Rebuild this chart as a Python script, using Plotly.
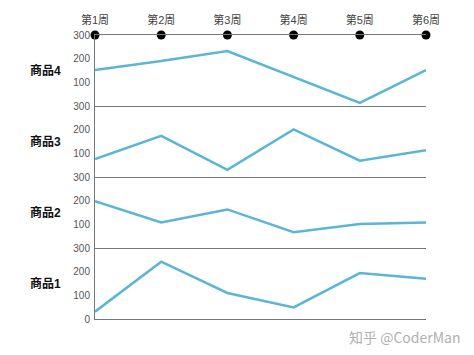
import plotly.graph_objects as go
from plotly.subplots import make_subplots

weeks = [1, 2, 3, 4, 5, 6]
week_labels = ["第1周", "第2周", "第3周", "第4周", "第5周", "第6周"]
products = ["商品4", "商品3", "商品2", "商品1"]
values = {
    "商品4": [152, 190, 232, 122, 13, 152],
    "商品3": [76, 174, 30, 201, 69, 113],
    "商品2": [198, 108, 163, 67, 101, 108],
    "商品1": [31, 242, 110, 49, 194, 170],
}
top_marker_value = [300, 300, 300, 300, 300, 300]

LINE = "#5bb5d5"
AX = "#777777"
FONT = "Liberation Sans, Arial, Noto Sans CJK SC, sans-serif"

fig = make_subplots(rows=4, cols=1, shared_xaxes=True, vertical_spacing=0)

for i, p in enumerate(products):
    fig.add_trace(go.Scatter(x=weeks, y=values[p], mode="lines",
                             line=dict(color=LINE, width=2.5),
                             showlegend=False, hoverinfo="skip"),
                  row=i + 1, col=1)

fig.add_trace(go.Scatter(x=weeks, y=top_marker_value, mode="markers",
                         marker=dict(color="black", size=9),
                         cliponaxis=False, showlegend=False),
              row=1, col=1)

for i in range(4):
    r = i + 1
    tv = [100, 200, 300] if r < 4 else [0, 100, 200, 300]
    fig.update_yaxes(range=[0, 300], tickvals=tv, ticktext=[str(v) for v in tv],
                     showgrid=False, zeroline=False, showline=True,
                     linecolor=AX, linewidth=1, ticks="", automargin=False,
                     ticklabelstandoff=2,
                     tickfont=dict(size=10, color="#555555", family=FONT),
                     row=r, col=1)
    fig.update_xaxes(range=[1, 6], showgrid=False, zeroline=False,
                     showline=True, linecolor=AX, linewidth=1.2, automargin=False,
                     ticks="", showticklabels=False, row=r, col=1)

fig.update_xaxes(side="top", showticklabels=True, tickvals=weeks,
                 ticktext=week_labels, mirror=True, ticklabelstandoff=6,
                 tickfont=dict(size=11, color="#444444", family=FONT),
                 row=1, col=1)

# Row labels
n = 4
for i, p in enumerate(products):
    yc = 1 - (i + 0.5) / n
    fig.add_annotation(text="<b>" + p + "</b>", xref="paper", yref="paper",
                       x=-0.151, y=yc, xanchor="center", yanchor="middle",
                       showarrow=False,
                       font=dict(size=12, color="#111111", family=FONT))

fig.add_annotation(text="知乎 @CoderMan", xref="paper", yref="paper",
                   x=1.109, y=-0.063, xanchor="right", yanchor="middle",
                   showarrow=False,
                   font=dict(size=14, color="#b0b0b0", family="Noto Sans CJK SC, sans-serif"))

fig.update_layout(width=466, height=347,
                  margin=dict(l=87, r=48, t=27, b=36),
                  plot_bgcolor="white", paper_bgcolor="white",
                  font=dict(family=FONT))

fig.write_html("out.html")
